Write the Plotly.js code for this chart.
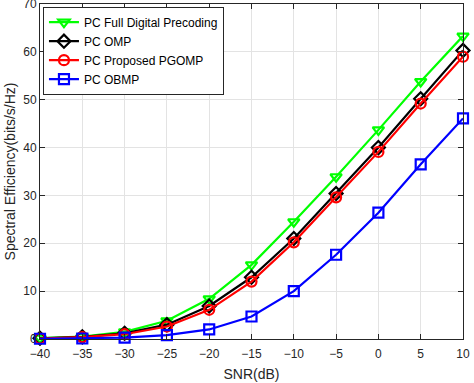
<!DOCTYPE html>
<html><head><meta charset="utf-8">
<script src="https://cdn.plot.ly/plotly-3.0.1.min.js"></script>
<style>html,body{margin:0;padding:0;background:#fff}#plot{width:474px;height:383px}</style>
</head><body><div id="plot"></div>
<script>
const snr = [-40,-35,-30,-25,-20,-15,-10,-5,0,5,10];
const fullDigital = [0.2,0.5,1.5,3.8,8.4,15.5,24.5,33.9,43.7,53.8,63.3];
const omp = [0.15,0.45,1.2,3.0,6.9,12.9,21.0,30.4,40.0,50.2,60.3];
const pgomp = [0.1,0.4,1.0,2.6,6.1,12.0,20.2,29.6,39.1,49.2,59.0];
const obmp = [0.05,0.1,0.3,0.8,2.0,4.7,10.0,17.6,26.4,36.5,46.1];
const yTicks = [0,10,20,30,40,50,60,70];
const names = ['PC Full Digital Precoding','PC OMP','PC Proposed PGOMP','PC OBMP'];
const colors = ['#00ff00','#000000','#ff0000','#0000ff'];
const symbols = ['triangle-down-open','diamond-open','circle-open','square-open'];
const series = [fullDigital, omp, pgomp, obmp];
const traces = series.map((y,i)=>({
  x: snr, y: y, name: names[i], type:'scatter', mode:'lines+markers', cliponaxis:false,
  line:{color:colors[i], width:2.2},
  marker:{symbol:symbols[i], size:10, color:colors[i], line:{color:colors[i], width:2.2}}
}));
const fontFam = 'Liberation Sans, Arial, sans-serif';
const axisCommon = {
  showline:true, mirror:'ticks', linecolor:'#262626', linewidth:1,
  ticks:'inside', ticklen:5, tickcolor:'#262626', ticklabeloverflow:'allow',
  showgrid:true, gridcolor:'#e3e3e3', gridwidth:1, zeroline:false,
  tickfont:{family:fontFam, size:12, color:'#262626'}
};
const layout = {
  width:474, height:383,
  margin:{l:40, r:11, t:4, b:44},
  paper_bgcolor:'#fff', plot_bgcolor:'#fff',
  showlegend:true,
  legend:{x:0.007, y:0.992, xanchor:'left', yanchor:'top', bgcolor:'#fff',
    bordercolor:'#262626', borderwidth:1, tracegroupgap:0,
    font:{family:fontFam, size:12, color:'#000'}},
  xaxis:Object.assign({}, axisCommon, {range:[-40,10], tickmode:'array', tickvals:snr, ticklabelstandoff:4,
    title:{text:'SNR(dB)', font:{family:fontFam, size:14, color:'#262626'}, standoff:8}}),
  yaxis:Object.assign({}, axisCommon, {range:[0,70.001], tickmode:'array', tickvals:yTicks,
    title:{text:'Spectral Efficiency(bits/s/Hz)', font:{family:fontFam, size:14, color:'#262626'}, standoff:4}})
};
Plotly.newPlot('plot', traces, layout, {displayModeBar:false, staticPlot:true});
</script></body></html>
